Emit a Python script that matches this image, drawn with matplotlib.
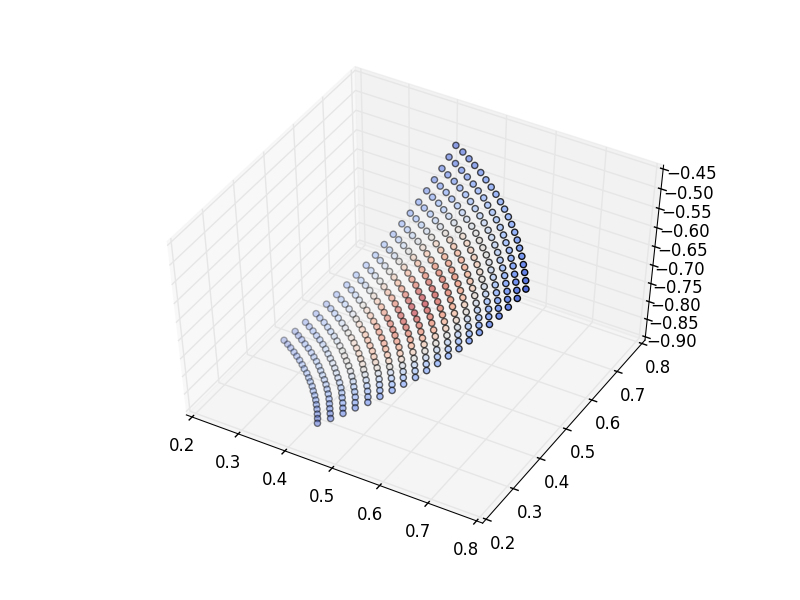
import numpy as np
import matplotlib
matplotlib.use('Agg')
from matplotlib import pyplot as plt
from matplotlib.ticker import MultipleLocator

# Height of each of the 20 arcs
arc_z = [-.866, -.852, -.837, -.822, -.806, -.789, -.772, -.754, -.736, -.717,
         -.697, -.677, -.657, -.636, -.614, -.592, -.570, -.547, -.524, -.500]

# One row per arc, 20 points along it
x_rows = [
    [.250, .262, .273, .285, .296, .307, .318, .328, .339, .349, .358, .368, .377, .386, .395, .403, .411, .419, .426, .433],
    [.262, .274, .286, .298, .310, .322, .333, .344, .355, .365, .375, .385, .395, .404, .413, .422, .430, .438, .446, .454],
    [.273, .286, .299, .312, .324, .336, .348, .359, .370, .381, .392, .402, .412, .422, .432, .441, .449, .458, .466, .474],
    [.285, .298, .312, .325, .337, .350, .362, .374, .386, .397, .408, .419, .430, .440, .450, .459, .468, .477, .485, .493],
    [.296, .310, .324, .337, .351, .364, .376, .389, .401, .413, .425, .436, .447, .457, .467, .477, .487, .496, .505, .513],
    [.307, .322, .336, .350, .364, .377, .390, .403, .416, .428, .440, .452, .463, .474, .485, .495, .505, .514, .523, .532],
    [.318, .333, .348, .362, .376, .390, .404, .418, .431, .443, .456, .468, .479, .491, .502, .512, .522, .532, .542, .551],
    [.328, .344, .359, .374, .389, .403, .418, .431, .445, .458, .471, .483, .495, .507, .518, .529, .540, .550, .559, .569],
    [.339, .355, .370, .386, .401, .416, .431, .445, .459, .472, .485, .498, .511, .523, .534, .546, .557, .567, .577, .587],
    [.349, .365, .381, .397, .413, .428, .443, .458, .472, .486, .500, .513, .526, .538, .550, .562, .573, .584, .594, .604],
    [.358, .375, .392, .408, .425, .440, .456, .471, .485, .500, .514, .527, .541, .553, .566, .578, .589, .600, .611, .621],
    [.368, .385, .402, .419, .436, .452, .468, .483, .498, .513, .527, .541, .555, .568, .581, .593, .605, .616, .627, .637],
    [.377, .395, .412, .430, .447, .463, .479, .495, .511, .526, .541, .555, .569, .582, .595, .608, .620, .631, .642, .653],
    [.386, .404, .422, .440, .457, .474, .491, .507, .523, .538, .553, .568, .582, .596, .609, .622, .634, .646, .658, .668],
    [.395, .413, .432, .450, .467, .485, .502, .518, .534, .550, .566, .581, .595, .609, .623, .636, .648, .661, .672, .683],
    [.403, .422, .441, .459, .477, .495, .512, .529, .546, .562, .578, .593, .608, .622, .636, .649, .662, .675, .686, .698],
    [.411, .430, .449, .468, .487, .505, .522, .540, .557, .573, .589, .605, .620, .634, .648, .662, .675, .688, .700, .712],
    [.419, .438, .458, .477, .496, .514, .532, .550, .567, .584, .600, .616, .631, .646, .661, .675, .688, .701, .713, .725],
    [.426, .446, .466, .485, .505, .523, .542, .559, .577, .594, .611, .627, .642, .658, .672, .686, .700, .713, .726, .738],
    [.433, .454, .474, .493, .513, .532, .551, .569, .587, .604, .621, .637, .653, .668, .683, .698, .712, .725, .738, .750],
]

y_rows = [
    [.433, .426, .419, .411, .403, .395, .386, .377, .368, .358, .349, .339, .328, .318, .307, .296, .285, .273, .262, .250],
    [.454, .446, .438, .430, .422, .413, .404, .395, .385, .375, .365, .355, .344, .333, .322, .310, .298, .286, .274, .262],
    [.474, .466, .458, .449, .441, .432, .422, .412, .402, .392, .381, .370, .359, .348, .336, .324, .312, .299, .286, .273],
    [.493, .485, .477, .468, .459, .450, .440, .430, .419, .408, .397, .386, .374, .362, .350, .337, .325, .312, .298, .285],
    [.513, .505, .496, .487, .477, .467, .457, .447, .436, .425, .413, .401, .389, .376, .364, .351, .337, .324, .310, .296],
    [.532, .523, .514, .505, .495, .485, .474, .463, .452, .440, .428, .416, .403, .390, .377, .364, .350, .336, .322, .307],
    [.551, .542, .532, .522, .512, .502, .491, .479, .468, .456, .443, .431, .418, .404, .390, .376, .362, .348, .333, .318],
    [.569, .559, .550, .540, .529, .518, .507, .495, .483, .471, .458, .445, .431, .418, .403, .389, .374, .359, .344, .328],
    [.587, .577, .567, .557, .546, .534, .523, .511, .498, .485, .472, .459, .445, .431, .416, .401, .386, .370, .355, .339],
    [.604, .594, .584, .573, .562, .550, .538, .526, .513, .500, .486, .472, .458, .443, .428, .413, .397, .381, .365, .349],
    [.621, .611, .600, .589, .578, .566, .553, .541, .527, .514, .500, .485, .471, .456, .440, .425, .408, .392, .375, .358],
    [.637, .627, .616, .605, .593, .581, .568, .555, .541, .527, .513, .498, .483, .468, .452, .436, .419, .402, .385, .368],
    [.653, .642, .631, .620, .608, .595, .582, .569, .555, .541, .526, .511, .495, .479, .463, .447, .430, .412, .395, .377],
    [.668, .658, .646, .634, .622, .609, .596, .582, .568, .553, .538, .523, .507, .491, .474, .457, .440, .422, .404, .386],
    [.683, .672, .661, .648, .636, .623, .609, .595, .581, .566, .550, .534, .518, .502, .485, .467, .450, .432, .413, .395],
    [.698, .686, .675, .662, .649, .636, .622, .608, .593, .578, .562, .546, .529, .512, .495, .477, .459, .441, .422, .403],
    [.712, .700, .688, .675, .662, .648, .634, .620, .605, .589, .573, .557, .540, .522, .505, .487, .468, .449, .430, .411],
    [.725, .713, .701, .688, .675, .661, .646, .631, .616, .600, .584, .567, .550, .532, .514, .496, .477, .458, .438, .419],
    [.738, .726, .713, .700, .686, .672, .658, .642, .627, .611, .594, .577, .559, .542, .523, .505, .485, .466, .446, .426],
    [.750, .738, .725, .712, .698, .683, .668, .653, .637, .621, .604, .587, .569, .551, .532, .513, .493, .474, .454, .433],
]

# Colour value of each point, 0 to 1 on coolwarm
colour_rows = [
    [.070, .089, .111, .136, .162, .187, .210, .229, .243, .251, .251, .243, .229, .210, .187, .162, .136, .111, .089, .070],
    [.089, .115, .144, .176, .210, .243, .274, .299, .318, .327, .327, .318, .299, .274, .243, .210, .176, .144, .115, .089],
    [.111, .144, .181, .223, .266, .308, .347, .380, .404, .416, .416, .404, .380, .347, .308, .266, .223, .181, .144, .111],
    [.136, .176, .223, .274, .327, .380, .429, .469, .498, .513, .513, .498, .469, .429, .380, .327, .274, .223, .176, .136],
    [.162, .210, .266, .327, .392, .455, .513, .562, .597, .615, .615, .597, .562, .513, .455, .392, .327, .266, .210, .162],
    [.187, .243, .308, .380, .455, .529, .597, .654, .695, .716, .716, .695, .654, .597, .529, .455, .380, .308, .243, .187],
    [.210, .274, .347, .429, .513, .597, .674, .738, .784, .808, .808, .784, .738, .674, .597, .513, .429, .347, .274, .210],
    [.229, .299, .380, .469, .562, .654, .738, .808, .859, .885, .885, .859, .808, .738, .654, .562, .469, .380, .299, .229],
    [.243, .318, .404, .498, .597, .695, .784, .859, .913, .941, .941, .913, .859, .784, .695, .597, .498, .404, .318, .243],
    [.251, .327, .416, .513, .615, .716, .808, .885, .941, .970, .970, .941, .885, .808, .716, .615, .513, .416, .327, .251],
    [.251, .327, .416, .513, .615, .716, .808, .885, .941, .970, .970, .941, .885, .808, .716, .615, .513, .416, .327, .251],
    [.243, .318, .404, .498, .597, .695, .784, .859, .913, .941, .941, .913, .859, .784, .695, .597, .498, .404, .318, .243],
    [.229, .299, .380, .469, .562, .654, .738, .808, .859, .885, .885, .859, .808, .738, .654, .562, .469, .380, .299, .229],
    [.210, .274, .347, .429, .513, .597, .674, .738, .784, .808, .808, .784, .738, .674, .597, .513, .429, .347, .274, .210],
    [.187, .243, .308, .380, .455, .529, .597, .654, .695, .716, .716, .695, .654, .597, .529, .455, .380, .308, .243, .187],
    [.162, .210, .266, .327, .392, .455, .513, .562, .597, .615, .615, .597, .562, .513, .455, .392, .327, .266, .210, .162],
    [.136, .176, .223, .274, .327, .380, .429, .469, .498, .513, .513, .498, .469, .429, .380, .327, .274, .223, .176, .136],
    [.111, .144, .181, .223, .266, .308, .347, .380, .404, .416, .416, .404, .380, .347, .308, .266, .223, .181, .144, .111],
    [.089, .115, .144, .176, .210, .243, .274, .299, .318, .327, .327, .318, .299, .274, .243, .210, .176, .144, .115, .089],
    [.070, .089, .111, .136, .162, .187, .210, .229, .243, .251, .251, .243, .229, .210, .187, .162, .136, .111, .089, .070],
]

plt.style.use('classic')
fig = plt.figure(figsize=(8, 6), dpi=100, facecolor='white')
ax = fig.add_subplot(111, projection='3d')

# Old style 3D axes: fill the whole subplot rectangle, panes a bit past the limits
ax.apply_aspect = lambda position=None: None
ax.set_box_aspect((1, 1, 1), zoom=(1 + 1 / 24) * np.sqrt(3) / (1.8294640721620434 * 25 / 24))

ax.scatter(np.ravel(x_rows), np.ravel(y_rows), np.repeat(arc_z, 20),
           c=np.ravel(colour_rows), cmap='coolwarm', vmin=0, vmax=1, s=20)

ax.set_xlim(0.2, 0.8, view_margin=1 / 48)
ax.set_ylim(0.2, 0.8, view_margin=1 / 48)
ax.set_zlim(-0.9, -0.45, view_margin=1 / 48)
ax.xaxis.set_major_locator(MultipleLocator(0.1))
ax.yaxis.set_major_locator(MultipleLocator(0.1))
ax.zaxis.set_major_locator(MultipleLocator(0.05))
ax.view_init(50, -60)

fig.savefig('out.png', dpi=100, facecolor='white')
